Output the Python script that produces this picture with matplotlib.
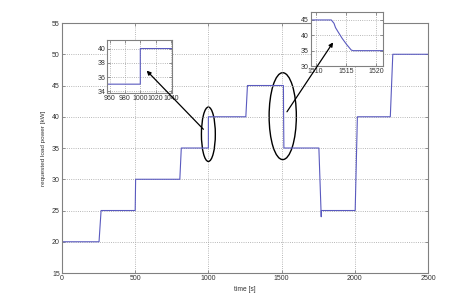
import matplotlib
matplotlib.use("Agg")
import matplotlib.pyplot as plt
from matplotlib.patches import Ellipse

# requested load power profile (vertices of the piecewise trace)
time_s = [0, 253, 267, 500, 503, 805, 815, 1000, 1000, 1256, 1267,
          1512.6, 1513.05, 1513.3, 1513.7, 1514.4, 1515.1, 1515.9, 1516.2,
          1755, 1771, 1772, 2003, 2018, 2243, 2260, 2500]
power_kw = [20, 20, 25, 25, 30, 30, 35, 35, 40, 40, 45,
            45, 43.9, 42.5, 41.2, 39.0, 37.1, 35.2, 35,
            35, 24, 25, 25, 40, 40, 50, 50]

main_xticks = [0, 500, 1000, 1500, 2000, 2500]
main_yticks = [15, 20, 25, 30, 35, 40, 45, 50, 55]
zoom1_xticks = [960, 980, 1000, 1020, 1040]
zoom1_yticks = [34, 36, 38, 40]
zoom2_xticks = [1510, 1515, 1520]
zoom2_yticks = [30, 35, 40, 45]

LINE = '#5a5abf'
FRAME = '#808080'
TXT = '#333333'

plt.rcParams['font.family'] = ['Liberation Sans', 'DejaVu Sans']


def style(ax, xticks, yticks):
    ax.set_xticks(xticks)
    ax.set_yticks(yticks)
    ax.tick_params(direction='in', length=2.5, width=0.6, labelsize=5,
                   colors=FRAME, labelcolor=TXT, pad=1.5,
                   top=True, right=True)
    ax.grid(True, linestyle=':', linewidth=0.6, color='#a0a0a0')
    for s in ax.spines.values():
        s.set_color(FRAME)
        s.set_linewidth(0.8)


fig = plt.figure(figsize=(4.74, 3.07), dpi=100)
ax = fig.add_axes([0.1308, 0.1107, 0.772, 0.8143])
ax.plot(time_s, power_kw, color=LINE, linewidth=0.8)
ax.set_xlim(0, 2500)
ax.set_ylim(15, 55)
style(ax, main_xticks, main_yticks)
ax.set_xlabel('time [s]', fontsize=4.8, color=TXT, labelpad=3)
ax.set_ylabel('requested load power [kW]', fontsize=4.6, color=TXT, labelpad=4)

ax.add_patch(Ellipse((1000, 37.2), 95, 8.7, fill=False, color='black', linewidth=1.0))
ax.add_patch(Ellipse((1508, 40.1), 186, 13.9, fill=False, color='black', linewidth=1.0))

# zoomed views
ax1 = fig.add_axes([0.2264, 0.698, 0.1359, 0.1717])
ax1.plot(time_s, power_kw, color=LINE, linewidth=0.8)
ax1.set_xlim(957, 1041)
ax1.set_ylim(33.8, 41.2)
style(ax1, zoom1_xticks, zoom1_yticks)

ax2 = fig.add_axes([0.6555, 0.785, 0.1519, 0.175])
ax2.plot(time_s, power_kw, color=LINE, linewidth=0.8)
ax2.set_xlim(1509.2, 1521.1)
ax2.set_ylim(30, 47.5)
style(ax2, zoom2_xticks, zoom2_yticks)

arrow = dict(arrowstyle='-|>', color='black', linewidth=0.9,
             mutation_scale=6, shrinkA=0, shrinkB=0)
ax1.annotate('', xy=(1008.3, 36.9), xytext=(966, 38.0),
             textcoords=ax.transData, arrowprops=arrow)
ax2.annotate('', xy=(1512.9, 37.7), xytext=(1537, 40.8),
             textcoords=ax.transData, arrowprops=arrow)

fig.savefig('out.png', dpi=100)
plt.close(fig)
